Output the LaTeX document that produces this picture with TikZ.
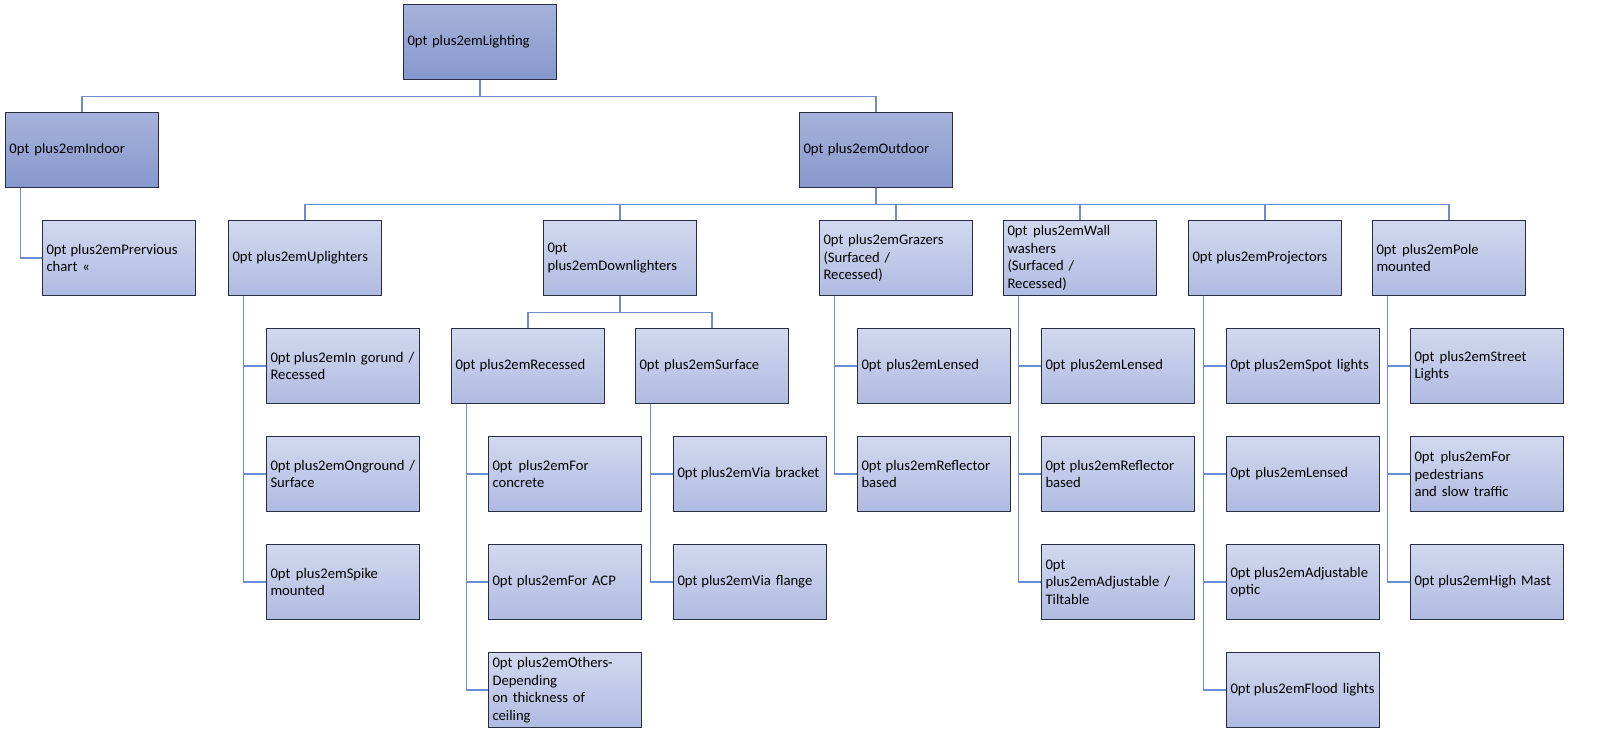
\documentclass[tikz,border=0pt]{standalone}
\usepackage{fontspec}
\setmainfont{Carlito}
\usetikzlibrary{positioning,calc}
\definecolor{toptop}{RGB}{166,178,218}
\definecolor{topbot}{RGB}{134,152,205}
\definecolor{subtop}{RGB}{210,216,238}
\definecolor{subbot}{RGB}{176,187,225}
\definecolor{linkblue}{RGB}{110,140,205}
\definecolor{boxedge}{RGB}{40,45,70}

\begin{document}
\begin{tikzpicture}[
    x=0.03cm, y=-0.03cm,
    headbox/.style={draw=boxedge, top color=toptop, bottom color=topbot, minimum width=153*0.03cm, minimum height=75*0.03cm, text width=145*0.03cm, align=center, font=\fontsize{12.5}{15}\selectfont\hyphenpenalty=10000},
    itembox/.style={headbox, top color=subtop, bottom color=subbot},
    link/.style={draw=linkblue, line width=1pt}
]
\useasboundingbox (0,0) rectangle (1600,752);

% Top levels
\node[headbox] (lighting) at (480,42) {Lighting};
\node[headbox] (indoor) at (82,150) {Indoor};
\node[headbox] (outdoor) at (876,150) {Outdoor};

% Categories
\node[itembox] (previous) at (119,258) {Prervious chart \textless\textless};
\node[itembox] (uplighters) at (305,258) {Uplighters};
\node[itembox] (downlighters) at (620,258) {Downlighters};
\node[itembox] (grazers) at (896,258) {Grazers (Surfaced /\\Recessed)};
\node[itembox] (washers) at (1080,258) {Wall washers\\(Surfaced /\\Recessed)};
\node[itembox] (projectors) at (1265,258) {Projectors};
\node[itembox] (pole) at (1449,258) {Pole mounted};

% Downlighter types
\node[itembox] (recessed) at (528,366) {Recessed};
\node[itembox] (surface) at (712,366) {Surface};

% Leaves
\node[itembox] (up1) at (343,366) {In gorund /\\Recessed};
\node[itembox] (up2) at (343,474) {Onground /\\Surface};
\node[itembox] (up3) at (343,582) {Spike mounted};

\node[itembox] (rec1) at (565,474) {For concrete};
\node[itembox] (rec2) at (565,582) {For ACP};
\node[itembox] (rec3) at (565,690) {Others- Depending\\on thickness of\\ceiling};

\node[itembox] (sur1) at (750,474) {Via bracket};
\node[itembox] (sur2) at (750,582) {Via flange};

\node[itembox] (gra1) at (934,366) {Lensed};
\node[itembox] (gra2) at (934,474) {Reflector based};

\node[itembox] (was1) at (1118,366) {Lensed};
\node[itembox] (was2) at (1118,474) {Reflector based};
\node[itembox] (was3) at (1118,582) {Adjustable /\\Tiltable};

\node[itembox] (pro1) at (1303,366) {Spot lights};
\node[itembox] (pro2) at (1303,474) {Lensed};
\node[itembox] (pro3) at (1303,582) {Adjustable optic};
\node[itembox] (pro4) at (1303,690) {Flood lights};

\node[itembox] (pol1) at (1487,366) {Street Lights};
\node[itembox] (pol2) at (1487,474) {For pedestrians\\and slow traffic};
\node[itembox] (pol3) at (1487,582) {High Mast};

% Bus connectors
\foreach \c in {indoor,outdoor}
  \draw[link] (lighting.south) |- ($(\c.north)+(0,-16)$) -- (\c.north);
\foreach \c in {uplighters,downlighters,grazers,washers,projectors,pole}
  \draw[link] (outdoor.south) |- ($(\c.north)+(0,-16)$) -- (\c.north);
\foreach \c in {recessed,surface}
  \draw[link] (downlighters.south) |- ($(\c.north)+(0,-16)$) -- (\c.north);

% Side connectors
\draw[link] ($(indoor.south west)+(15,0)$) |- (previous.west);
\foreach \p/\kids in {uplighters/{up1,up2,up3},recessed/{rec1,rec2,rec3},surface/{sur1,sur2},grazers/{gra1,gra2},washers/{was1,was2,was3},projectors/{pro1,pro2,pro3,pro4},pole/{pol1,pol2,pol3}}
  \foreach \k in \kids
    \draw[link] ($(\p.south west)+(15,0)$) |- (\k.west);
\end{tikzpicture}
\end{document}
